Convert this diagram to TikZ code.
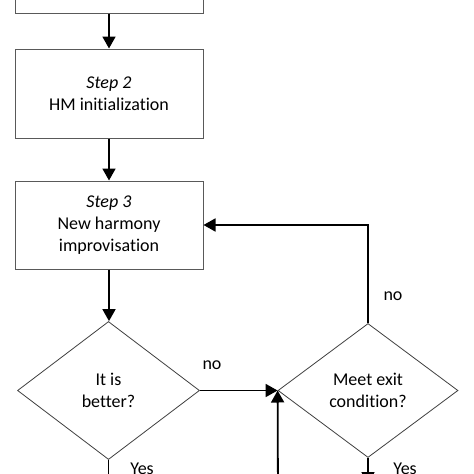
\documentclass[tikz,border=0pt]{standalone}
\usepackage{fontspec}
\setmainfont{Carlito}[Ligatures={NoCommon,NoRare,NoContextual}]
\usetikzlibrary{shapes.geometric,arrows.meta}
\begin{document}
\begin{tikzpicture}[x=1pt,y=-1pt,
  font=\fontsize{18}{22}\selectfont,
  stepbox/.style={draw=black!65,line width=1pt,rectangle,minimum width=188pt,minimum height=88pt,inner sep=0pt,align=center},
  decision/.style={draw=black!75,line width=0.8pt,diamond,inner sep=0pt,align=center},
  flow/.style={draw=black,line width=1.8pt,-{Triangle[length=12pt,width=13pt]}},
  plain/.style={draw=black,line width=1.8pt},
  lbl/.style={inner sep=0pt}]
\useasboundingbox (0,0) rectangle (474,474);
\clip (0,0) rectangle (474,474);
\fill[white] (0,0) rectangle (474,474);
\node[stepbox] (b1) at (109,-31) {};
\node[stepbox,minimum height=89pt] (b2) at (109,93.5) {\textit{Step 2}\\HM initialization};
\node[stepbox] (b3) at (109,225) {\textit{Step 3}\\New harmony\\improvisation};
\node[decision,minimum width=182pt,minimum height=138pt] (d1) at (108.5,390.5) {It is\\better?};
\node[decision,minimum width=180pt,minimum height=134pt] (d2) at (368,390.5) {Meet exit\\condition?};
\coordinate (e1) at (108.5,500);
\coordinate (e2) at (368,484);
\coordinate (e3) at (278,500);
\draw[flow] (b1.south) -- (b2.north);
\draw[flow] (b2.south) -- (b3.north);
\draw[flow] (b3.south) -- (b3.south |- d1.north);
\draw[flow] (d1.east) -- (d2.west);
\draw[flow] (d2.north) |- (b3.east);
\draw[plain] (d1.south) -- (e1);
\draw[flow] (d2.south) -- (e2);
\draw[flow] (e3) -- (d2.west);
\node[lbl] (no1) at (212,365) {no};
\node[lbl] (no2) at (393,296) {no};
\node[lbl] (y1) at (142,469) {Yes};
\node[lbl] (y2) at (405,469) {Yes};
\end{tikzpicture}
\end{document}
